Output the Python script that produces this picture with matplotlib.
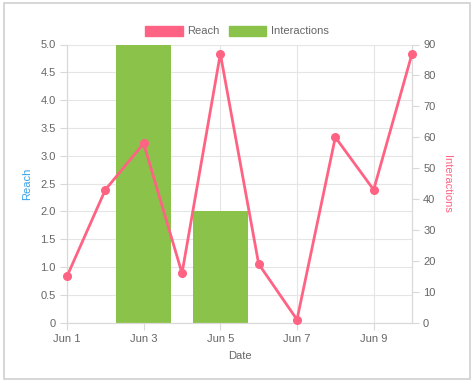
import numpy as np
import matplotlib
matplotlib.use("Agg")
import matplotlib.pyplot as plt
import matplotlib.dates as mdates
from matplotlib.patches import Rectangle, Patch
from matplotlib.ticker import FixedLocator, FuncFormatter
import datetime as dt

plt.rcParams['font.family'] = ['Liberation Sans', 'DejaVu Sans']

# data
days = [dt.date(2023, 6, d) for d in range(1, 11)]
reach = [15, 43, 58, 16, 87, 19, 1, 60, 43, 87]
bar_days = [dt.date(2023, 6, 3), dt.date(2023, 6, 5)]
interactions = [5.0, 2.0]
tick_days = [dt.date(2023, 6, d) for d in (1, 3, 5, 7, 9)]

PINK = '#ff6384'
GREEN = '#8bc34a'
BLUE = '#36a2eb'
GREY = '#666666'
GRID = '#e5e5e5'
FS = 8

W, H = 474, 384
fig = plt.figure(figsize=(W / 100, H / 100), dpi=100)
ax = fig.add_axes([67 / W, 1 - 322.7 / H, (412 - 67) / W, (322.7 - 44.5) / H])
ax2 = ax.twinx()

xd = mdates.date2num(days)
xb = mdates.date2num(bar_days)

# bars on the left scale, line on the right scale
ax.bar(xb, interactions, width=1.44, color=GREEN, zorder=2)
ax2.plot(xd, reach, color=PINK, lw=2.0, marker='o', ms=5.5, zorder=3, clip_on=False)
ax.set_zorder(1)
ax2.set_zorder(2)
ax.patch.set_visible(False)

ax.set_xlim(xd[0], xd[-1])
ax.set_ylim(0, 5)
ax2.set_ylim(0, 90)

ax.set_yticks(np.arange(0, 5.01, 0.5))
ax.yaxis.set_major_formatter(FuncFormatter(lambda v, p: '0' if v == 0 else f'{v:.1f}'))
ax2.set_yticks(np.arange(0, 91, 10))
ax.xaxis.set_major_locator(FixedLocator(mdates.date2num(tick_days)))
ax.xaxis.set_major_formatter(FuncFormatter(lambda v, p: 'Jun ' + str(mdates.num2date(v).day)))

ax.grid(True, color=GRID, lw=0.8, zorder=0)
ax.set_axisbelow(True)
for a in (ax, ax2):
    for s in a.spines.values():
        s.set_color('#d9d9d9')
        s.set_linewidth(0.8)
    a.spines['top'].set_visible(False)
    a.tick_params(colors=GREY, labelsize=FS, length=5, width=0.8, pad=3)
    a.tick_params(axis='both', color='#d9d9d9')

ax.set_ylabel('Reach', color=BLUE, fontsize=FS, labelpad=6)
ax2.set_ylabel('Interactions', color=PINK, fontsize=FS, rotation=-90, labelpad=12)
ax.set_xlabel('Date', color=GREY, fontsize=FS, labelpad=5)

fig.legend([Patch(color=PINK), Patch(color=GREEN)], ['Reach', 'Interactions'],
           loc='center', bbox_to_anchor=(0.5, 1 - 31 / H), ncol=2, frameon=False,
           fontsize=FS, handlelength=3.4, handleheight=1.0,
           handletextpad=0.4, columnspacing=0.8, labelcolor=GREY)

fig.patches.append(Rectangle((4 / W, 5 / H), 466 / W, 376 / H, transform=fig.transFigure,
                             fill=False, edgecolor='#d0d0d0', lw=1.2))

fig.savefig('out.png', dpi=100)
